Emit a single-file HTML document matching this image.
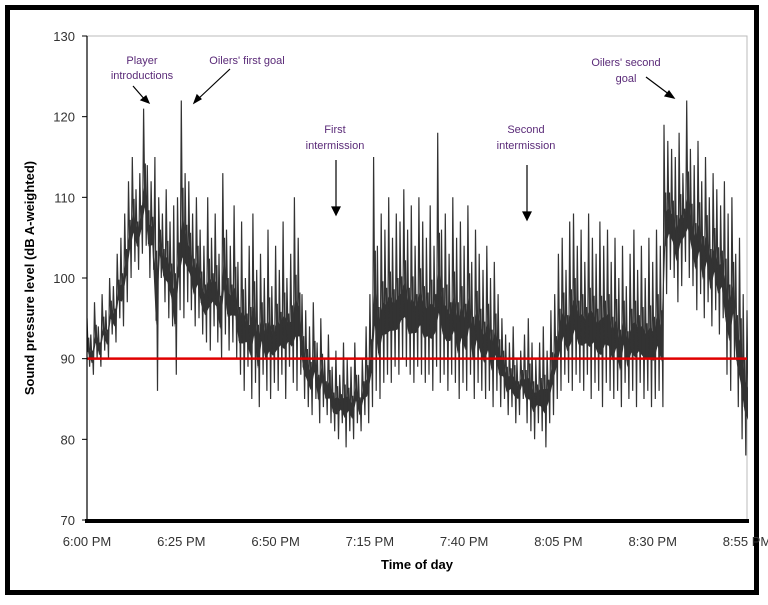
<!DOCTYPE html>
<html><head><meta charset="utf-8"><style>
html,body{margin:0;padding:0;background:#fff;}
svg{display:block;font-family:"Liberation Sans",Arial,sans-serif;}
</style></head><body>
<svg id="chart" width="768" height="605" viewBox="0 0 768 605">
<defs><clipPath id="pc"><rect x="87" y="30" width="661" height="492"/></clipPath></defs>
<rect x="7.5" y="7.5" width="749" height="585" fill="none" stroke="#000" stroke-width="5"/>
<rect x="87" y="36" width="660" height="484" fill="none" stroke="#bbb" stroke-width="1"/>
<g id="yticks"></g>
<g id="xticks"></g>
<g id="series" clip-path="url(#pc)"></g>
<line id="ref" x1="87" x2="747" stroke="#e00000" stroke-width="2.5"/>
<line x1="87" y1="36" x2="87" y2="521" stroke="#000" stroke-width="1.2"/>
<line x1="85" y1="521" x2="749" y2="521" stroke="#000" stroke-width="4"/>
<text x="34" y="278" transform="rotate(-90 34 278)" text-anchor="middle" font-size="13" font-weight="bold">Sound pressure level (dB A-weighted)</text>
<text x="417" y="569" text-anchor="middle" font-size="13" font-weight="bold">Time of day</text>
<g font-size="11" fill="#5a2a78" text-anchor="middle">
<text x="142" y="64"><tspan x="142">Player</tspan><tspan x="142" dy="15">introductions</tspan></text>
<text x="247" y="64">Oilers' first goal</text>
<text x="335" y="133"><tspan x="335">First</tspan><tspan x="335" dy="16">intermission</tspan></text>
<text x="526" y="133"><tspan x="526">Second</tspan><tspan x="526" dy="16">intermission</tspan></text>
<text x="626" y="66"><tspan x="626">Oilers' second</tspan><tspan x="626" dy="16">goal</tspan></text>
</g>
<g stroke="#000" stroke-width="1.2" fill="#000">
<line x1="133" y1="86" x2="146" y2="101"/><polygon points="149,103 141,100 146,96"/>
<line x1="230" y1="69" x2="197" y2="100"/><polygon points="194,103 197,95 201,99"/>
<line x1="336" y1="160" x2="336" y2="210"/><polygon points="336,215 332,207 340,207"/>
<line x1="527" y1="165" x2="527" y2="215"/><polygon points="527,220 523,212 531,212"/>
<line x1="646" y1="77" x2="670" y2="95"/><polygon points="674,98 665,96 669,91"/>
</g>
</svg>
<script>
const yTicks=[70,80,90,100,110,120,130];
const xTickLabels=["6:00 PM","6:25 PM","6:50 PM","7:15 PM","7:40 PM","8:05 PM","8:30 PM","8:55 PM"];
const xTickMinutes=[0,25,50,75,100,125,150,175];
const refLevel=90;
const hi=[95,93,97,94,98,96,100,99,103,105,
108,112,115,111,113,121,114,112,115,110,
108,111,107,109,110,122,113,112,108,110,
106,104,110,105,108,103,113,106,104,109,
102,107,100,104,108,101,103,100,106,99,
104,101,107,100,103,110,105,98,96,94,
97,92,95,90,93,89,91,88,92,90,
89,92,88,90,94,98,115,104,108,106,
110,105,108,107,111,106,109,104,110,107,
105,109,104,118,106,108,103,110,105,107,
104,109,102,106,103,101,104,100,102,98,
95,93,92,94,90,91,93,95,92,90,
92,94,91,96,98,103,105,101,107,108,
104,106,102,108,105,103,107,104,106,102,
105,100,104,99,103,106,101,104,100,105,
102,106,104,119,117,116,115,118,113,122,
116,114,117,112,115,110,113,111,109,112,
108,110,103,105,98,96];
const lo=[89,88,90,89,91,90,93,92,95,94,
97,100,102,101,103,104,100,101,86,100,
97,95,94,88,96,95,97,96,94,95,
93,92,91,94,92,90,93,91,92,90,
88,86,89,85,87,84,88,86,85,87,
86,88,85,89,87,86,88,85,84,83,
85,82,84,83,82,81,80,82,79,81,
80,82,81,83,82,84,86,85,87,88,
87,89,88,90,89,88,87,89,88,87,
88,86,89,87,88,86,88,87,85,87,
86,88,85,87,86,85,86,84,86,84,
85,83,84,82,83,85,82,81,80,82,
81,79,82,83,85,86,88,87,86,88,
87,86,88,85,87,86,84,87,86,85,
86,84,87,85,86,84,87,85,86,84,
85,86,84,98,101,100,97,99,102,100,
99,96,98,95,97,94,96,93,95,88,
86,90,84,80,78,77];
const NS="http://www.w3.org/2000/svg";
const X0=87,X1=747,Y0=520,Y1=36;
function xs(m){return X0+(m/175)*(X1-X0);}
function ys(v){return Y0-(v-70)/60*(Y0-Y1);}
const yg=document.getElementById('yticks');
yTicks.forEach(v=>{
 const t=document.createElementNS(NS,'text');
 
 
 t.setAttribute('x',75);t.setAttribute('y',ys(v)+5);t.setAttribute('text-anchor','end');t.setAttribute('font-size','13');t.setAttribute('fill','#333');
 t.textContent=v;yg.appendChild(t);
 const l=document.createElementNS(NS,'line');
 
 
 l.setAttribute('x1',82);l.setAttribute('x2',87);l.setAttribute('y1',ys(v));l.setAttribute('y2',ys(v));l.setAttribute('stroke','#000');
 yg.appendChild(l);
});
const xg=document.getElementById('xticks');
xTickLabels.forEach((s,i)=>{
 const t=document.createElementNS(NS,'text');
 
 
 t.setAttribute('x',xs(xTickMinutes[i]));t.setAttribute('y',546);t.setAttribute('text-anchor','middle');t.setAttribute('font-size','13');t.setAttribute('fill','#333');
 t.textContent=s;xg.appendChild(t);
});
const n=hi.length;
let up=[],dn=[];
for(let i=0;i<n;i++){
 const m=i*175/(n-1);
 const x=xs(m)+1.2;
 up.push(x.toFixed(1)+','+ys(lo[i]+(hi[i]-lo[i])*0.48).toFixed(1));
 dn.unshift(x.toFixed(1)+','+ys(lo[i]+(hi[i]-lo[i])*0.28).toFixed(1));
}
const band=document.createElementNS(NS,'polygon');


band.setAttribute('points',up.concat(dn).join(' '));band.setAttribute('fill','#333');band.setAttribute('stroke','none');
document.getElementById('series').appendChild(band);
let pts=[];
for(let i=0;i<n;i++){
 const m=i*175/(n-1);
 const x=xs(m);
 pts.push(x.toFixed(1)+','+ys(hi[i]).toFixed(1));
 pts.push((x+1.2).toFixed(1)+','+ys(lo[i]+(hi[i]-lo[i])*0.3).toFixed(1));
 pts.push((x+1.7).toFixed(1)+','+ys(lo[i]+(hi[i]-lo[i])*0.6).toFixed(1));
 pts.push((x+2.6).toFixed(1)+','+ys(lo[i]).toFixed(1));
}
const pl=document.createElementNS(NS,'polyline');


pl.setAttribute('points',pts.join(' '));pl.setAttribute('fill','none');pl.setAttribute('stroke','#333');pl.setAttribute('stroke-width','1.2');
document.getElementById('series').appendChild(pl);
const r=document.getElementById('ref');r.setAttribute('y1',ys(refLevel));r.setAttribute('y2',ys(refLevel));
</script>
</body></html>
